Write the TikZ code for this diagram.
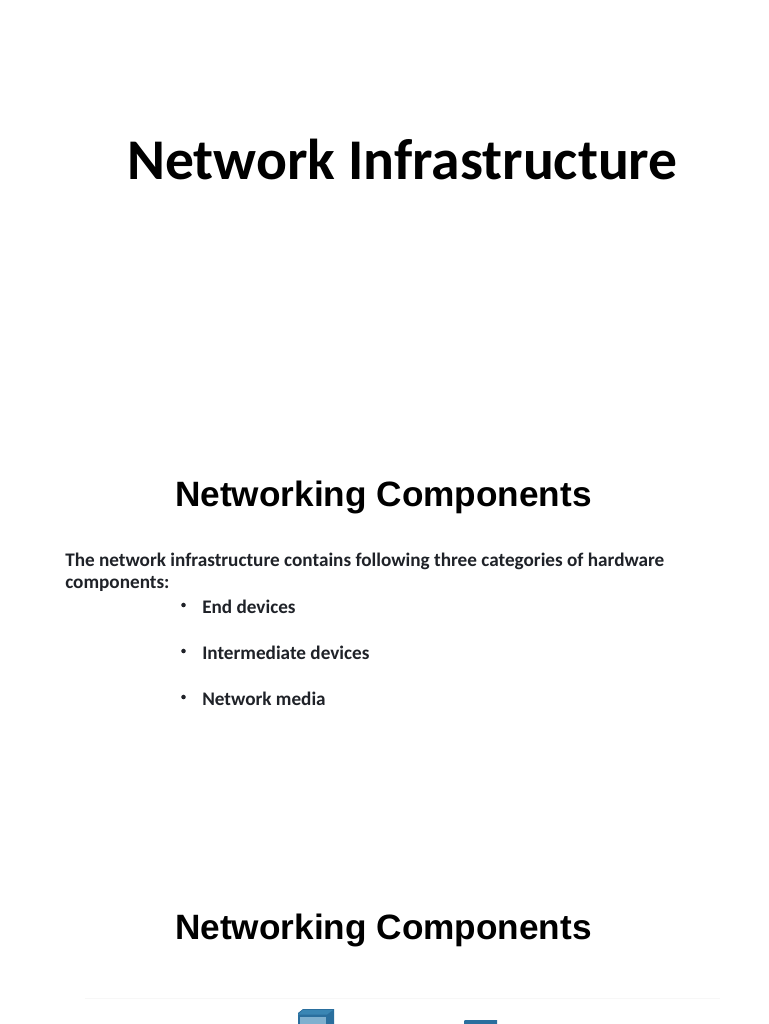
\documentclass[tikz,border=0pt]{standalone}
\usepackage{fontspec}
\setmainfont{Carlito}
\newfontfamily\arialf{Liberation Sans}
\definecolor{bodyink}{HTML}{1F2228}
\definecolor{boxdark}{HTML}{2A6F9E}
\definecolor{boxtop}{HTML}{3A86B4}
\definecolor{boxface}{HTML}{7FB0CF}
\tikzset{
  px/.style={x=0.75pt,y=-0.75pt},
  heading/.style={inner sep=0pt,anchor=center,font=\arialf\bfseries\fontsize{26.4}{30}\selectfont,text=black},
  bodytext/.style={inner sep=0pt,anchor=west,font=\bfseries\fontsize{14.4}{17}\selectfont,text=bodyink},
  dotmark/.style={circle,fill=bodyink,inner sep=0pt,minimum size=3.4pt},
}
\begin{document}
\begin{tikzpicture}[px]
\useasboundingbox (0,0) rectangle (768,1024);
\fill[white] (0,0) rectangle (768,1024);
\node[inner sep=0pt,font=\bfseries\fontsize{43.2}{50}\selectfont] (title) at (402.5,160) {Network Infrastructure};
\node[heading] (h1) at (383.5,497) {Networking Components};
\node[bodytext] (l1) at (65,561) {The network infrastructure contains following three categories of hardware};
\node[bodytext] (l2) at (65,584) {components:};
\node[bodytext] (b1) at (202,607) {End devices};
\node[bodytext] (b2) at (202,653) {Intermediate devices};
\node[bodytext] (b3) at (202,699) {Network media};
\node[dotmark] (d1) at (183.5,605) {};
\node[dotmark] (d2) at (183.5,651) {};
\node[dotmark] (d3) at (183.5,697) {};
\node[heading] (h2) at (383.5,930) {Networking Components};
% faint edge of the cropped picture
\draw[black!3,line width=0.75pt] (85,998) -- (720,998);
% first device, cut by the page edge
\fill[boxdark] (298,1024) -- (298,1013) -- (303,1009) -- (334,1009) -- (334,1024) -- cycle;
\fill[boxtop] (298,1014.5) -- (303,1010) -- (333,1010) -- (327,1014.5) -- cycle;
\fill[boxface] (300,1016.5) rectangle (326,1024);
% second device, cut by the page edge
\fill[boxdark] (464,1024) -- (464,1021) -- (465,1020) -- (497,1020) -- (497,1024) -- cycle;
\end{tikzpicture}
\end{document}
